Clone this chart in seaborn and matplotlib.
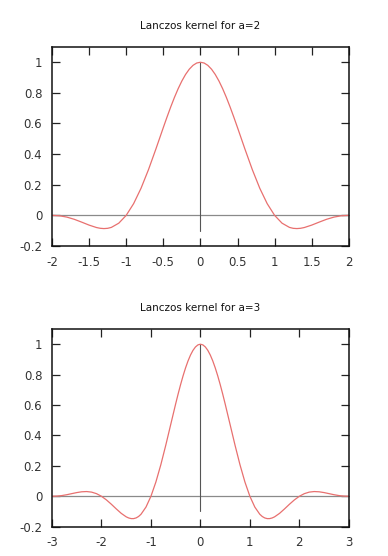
import matplotlib
matplotlib.use("Agg")
import matplotlib.pyplot as plt
import seaborn as sns
import pandas as pd

# Values (right half, curve is symmetric about x=0)
x2_half = [0.0, 0.05, 0.1, 0.15, 0.2, 0.25, 0.3, 0.35, 0.4, 0.45, 0.5, 0.6, 0.7, 0.8, 0.9, 1.0,
           1.1, 1.2, 1.25, 1.3, 1.35, 1.4, 1.5, 1.6, 1.7, 1.8, 1.9, 2.0]
y2_half = [1.0, 0.9949, 0.9796, 0.9545, 0.9202, 0.8774, 0.8270, 0.7701, 0.7080, 0.6419, 0.5732,
           0.4331, 0.2981, 0.1770, 0.0764, 0.0,
           -0.0511, -0.0787, -0.0847, -0.0864, -0.0845, -0.0796, -0.0637, -0.0443, -0.0258,
           -0.0114, -0.0027, 0.0]

x3_half = [0.0, 0.05, 0.1, 0.15, 0.2, 0.25, 0.3, 0.35, 0.4, 0.45, 0.5, 0.6, 0.7, 0.8, 0.9, 1.0,
           1.1, 1.2, 1.25, 1.3, 1.35, 1.4, 1.45, 1.5, 1.6, 1.7, 1.8, 1.9, 2.0,
           2.1, 2.2, 2.3, 2.4, 2.5, 2.6, 2.7, 2.8, 2.9, 3.0]
y3_half = [1.0, 0.9954, 0.9818, 0.9594, 0.9287, 0.8901, 0.8443, 0.7923, 0.7349, 0.6731, 0.6079,
           0.4720, 0.3358, 0.2075, 0.0938, 0.0,
           -0.0709, -0.1180, -0.1329, -0.1423, -0.1468, -0.1467, -0.1426, -0.1351, -0.1123,
           -0.0832, -0.0524, -0.0238, 0.0,
           0.0172, 0.0274, 0.0311, 0.0295, 0.0243, 0.0174, 0.0104, 0.0047, 0.0012, 0.0]

titles = ["Lanczos kernel for a=2", "Lanczos kernel for a=3"]
xticks2 = [-2, -1.5, -1, -0.5, 0, 0.5, 1, 1.5, 2]
xticklabels2 = ["-2", "-1.5", "-1", "-0.5", "0", "0.5", "1", "1.5", "2"]
xticks3 = [-3, -2, -1, 0, 1, 2, 3]
xticklabels3 = ["-3", "-2", "-1", "0", "1", "2", "3"]
yticks = [-0.2, 0, 0.2, 0.4, 0.6, 0.8, 1]
yticklabels = ["-0.2", "0", "0.2", "0.4", "0.6", "0.8", "1"]


def mirror(xs, ys):
    xx = [-v for v in reversed(xs[1:])] + list(xs)
    yy = list(reversed(ys[1:])) + list(ys)
    return pd.DataFrame({"x": xx, "y": yy})


sns.set_style("white")
plt.rcParams["font.family"] = ["DejaVu Sans"]

fig = plt.figure(figsize=(3.88, 5.56), dpi=100)
ax1 = fig.add_axes([0.134, 0.5576, 0.765, 0.358])
ax2 = fig.add_axes([0.134, 0.0527, 0.765, 0.3556])

curve_color = "#e8706f"

for ax, df, title, xt, xtl, lim in [
    (ax1, mirror(x2_half, y2_half), titles[0], xticks2, xticklabels2, 2),
    (ax2, mirror(x3_half, y3_half), titles[1], xticks3, xticklabels3, 3),
]:
    ax.axhline(0, color="#8a8a8a", lw=0.9, zorder=1)
    ax.plot([0, 0], [-0.1, 1.0], color="#555555", lw=0.8, zorder=1)
    sns.lineplot(data=df, x="x", y="y", ax=ax, color=curve_color, lw=0.9,
                 sort=False, zorder=2)
    ax.set_xlim(-lim, lim)
    ax.set_ylim(-0.2, 1.1)
    ax.set_xticks(xt)
    ax.set_xticklabels(xtl)
    ax.set_yticks(yticks)
    ax.set_yticklabels(yticklabels)
    ax.set_xlabel("")
    ax.set_ylabel("")
    ax.set_title(title, fontsize=7.5, color="#111111", pad=13)
    for s in ax.spines.values():
        s.set_visible(True)
        s.set_color("#111111")
        s.set_linewidth(1.1)
    ax.tick_params(axis="both", which="major", direction="in", length=6, width=0.9,
                   color="#222222", labelsize=8.5, labelcolor="#333333",
                   top=True, right=True, bottom=True, left=True)
    ax.tick_params(axis="y", pad=7)
    ax.tick_params(axis="x", pad=7)
    ax.grid(False)

fig.savefig("out.png", dpi=100, facecolor="white")
